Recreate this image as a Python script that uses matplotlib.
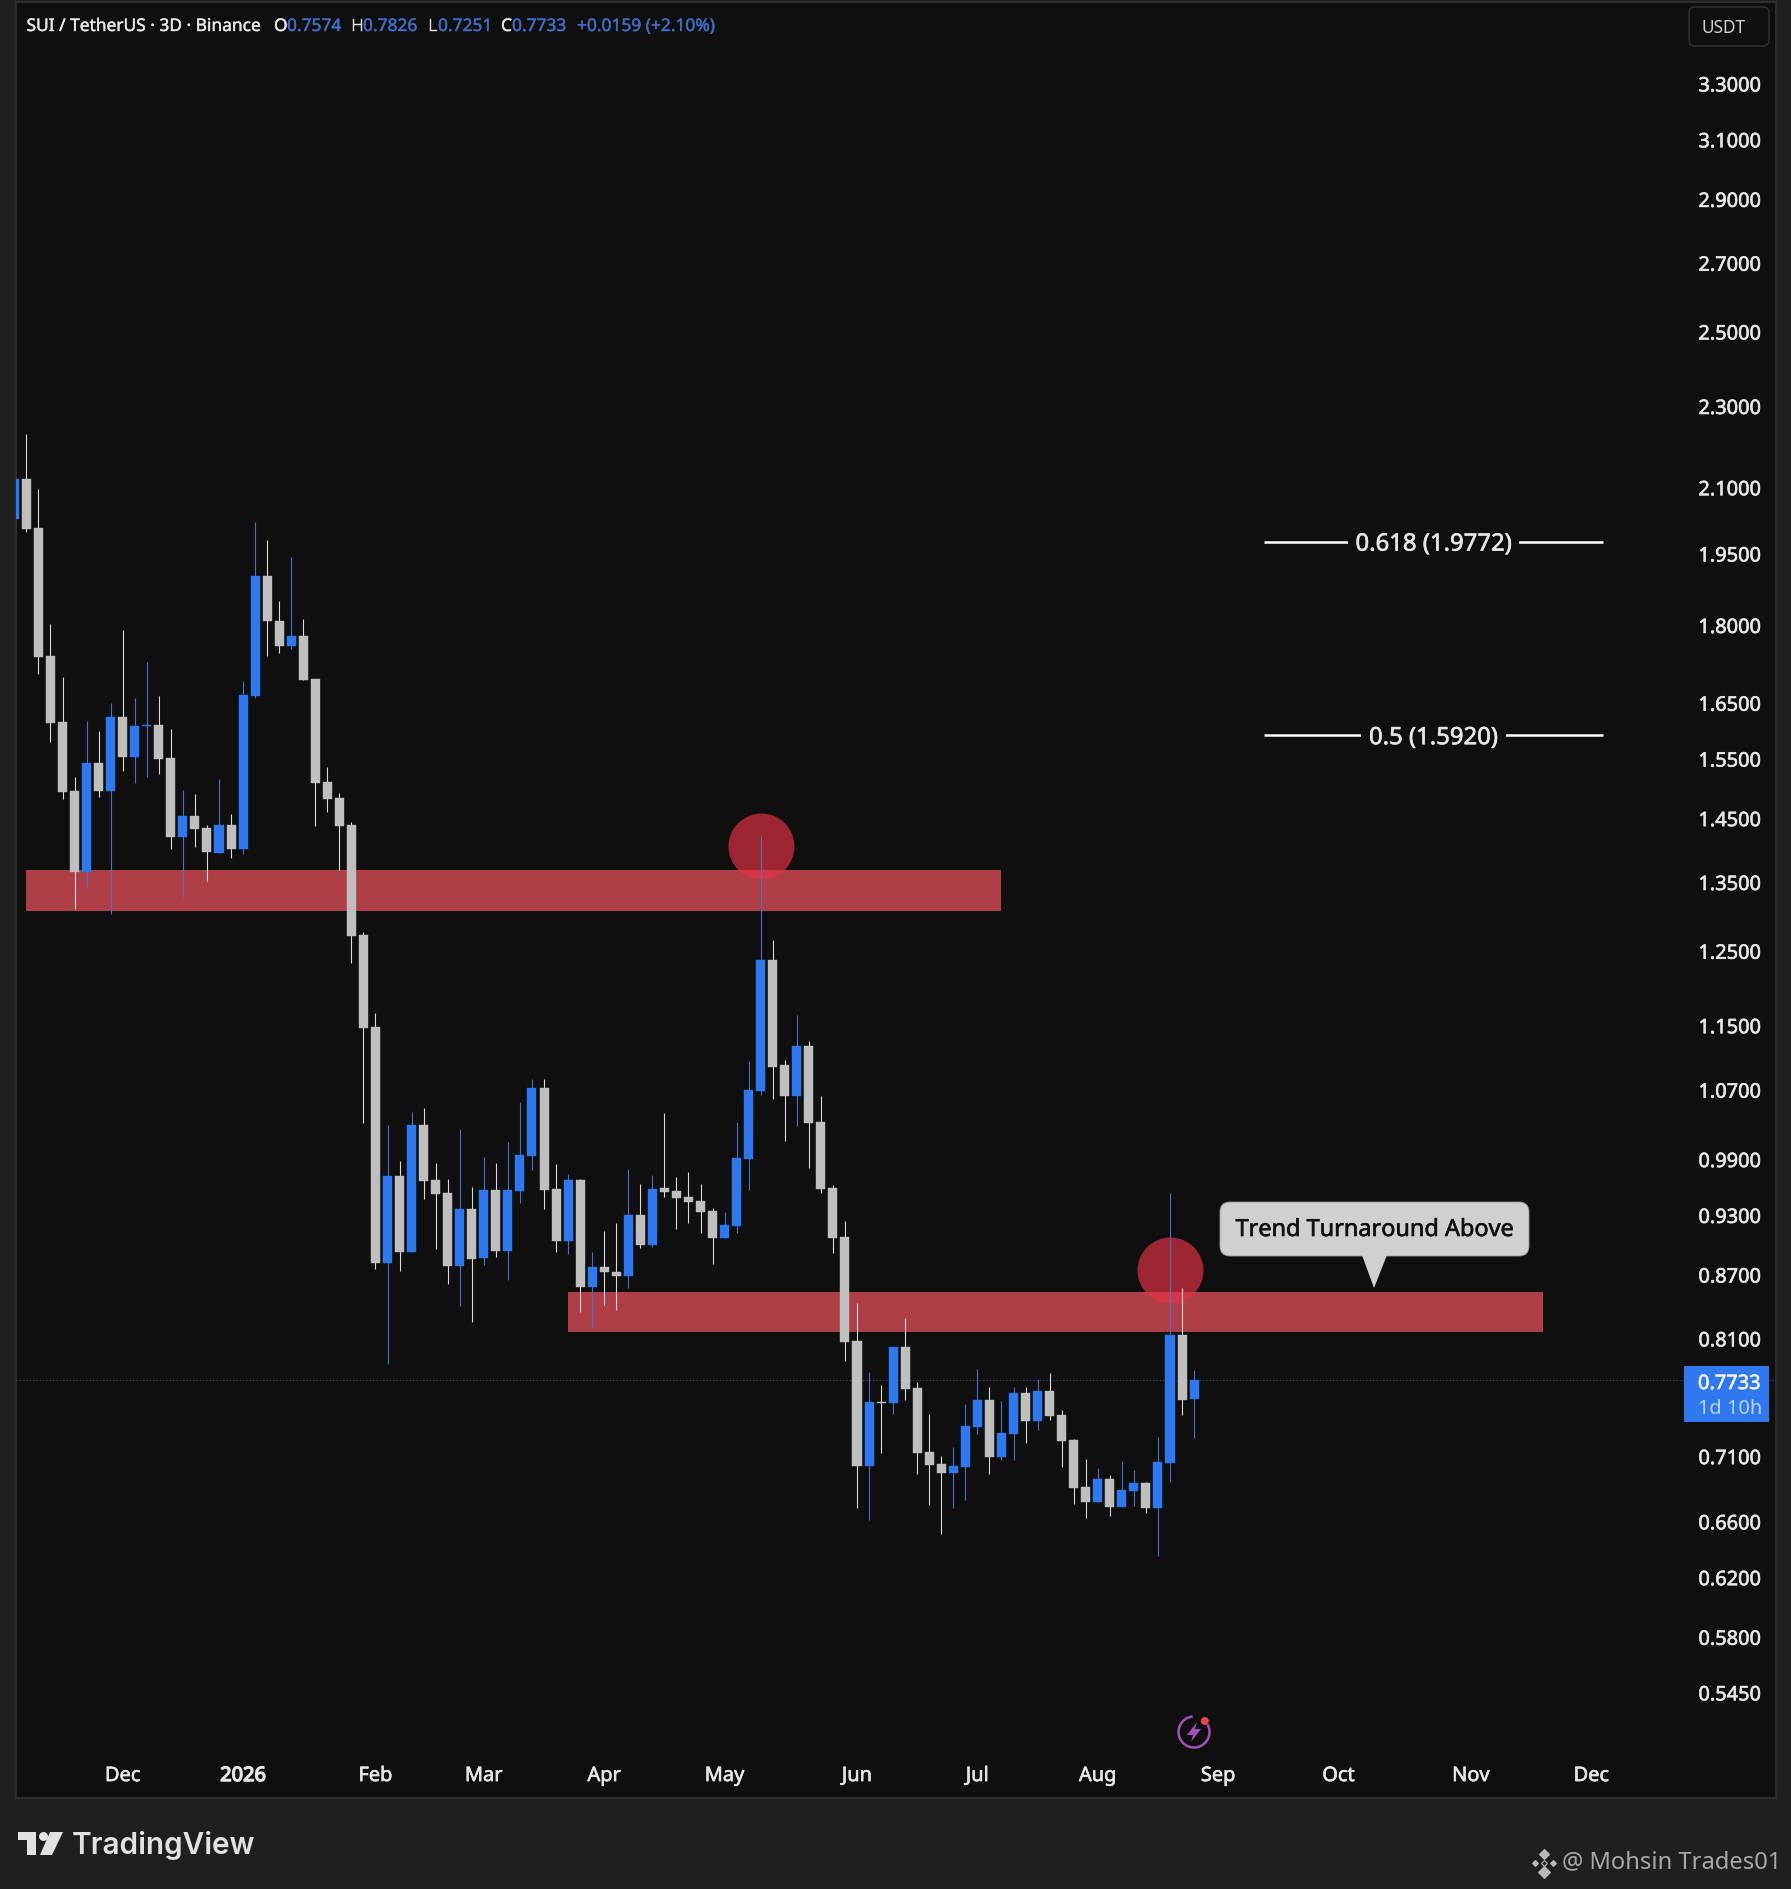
import numpy as np
import matplotlib
matplotlib.use('Agg')
import matplotlib.pyplot as plt
import matplotlib.patheffects as pe
from matplotlib.patches import FancyBboxPatch, Polygon, Rectangle, Arc, Circle

plt.rcParams['font.family'] = ['Noto Sans', 'DejaVu Sans']

W, H = 1791, 1889

# candles, 3D bars, index 0 is the first full bar
opens = [
    2.028, 2.120, 2.007, 1.7392, 1.6165, 1.4953, 1.3657, 1.5432, 1.4953, 1.6251,
    1.5539, 1.6076, 1.6096, 1.5520, 1.4207, 1.4539, 1.4346, 1.3955, 1.4392, 1.4022,
    1.6631, 1.9015, 1.81, 1.7588, 1.7784, 1.695, 1.5103, 1.4841, 1.4392, 1.2728,
    1.148, 0.8817, 0.9716, 0.8925, 1.0287, 0.9674, 0.9536, 0.879, 0.9367, 0.887,
    0.9568, 0.8936, 0.9557, 0.9943, 1.0725, 0.9578, 0.9037, 0.9674, 0.8583, 0.8777,
    0.8727, 0.8687, 0.9303, 0.8994, 0.9589, 0.9557, 0.9494, 0.9451, 0.9346, 0.9067,
    0.9187, 0.9906, 1.069, 1.2378, 1.1, 1.0634, 1.1242, 1.032, 0.9592, 0.9077,
    0.8078, 0.7025, 0.7551, 0.7542, 0.8027, 0.7667, 0.7137, 0.7041, 0.6969, 0.7017,
    0.7337, 0.7565, 0.7097, 0.7281, 0.7624, 0.7387, 0.7641, 0.7438, 0.7233, 0.6862,
    0.6749, 0.6923, 0.6711, 0.6832, 0.6891, 0.6704, 0.7049, 0.8134, 0.7574,
]
closes = [
    2.120, 2.0055, 1.7379, 1.6145, 1.4937, 1.3657, 1.5432, 1.4953, 1.6251, 1.5539,
    1.6076, 1.6096, 1.5507, 1.4207, 1.4539, 1.4335, 1.3961, 1.4392, 1.4022, 1.6652,
    1.9015, 1.8086, 1.7588, 1.7784, 1.6937, 1.5089, 1.4827, 1.4381, 1.2718, 1.1471,
    0.882, 0.9716, 0.8925, 1.0287, 0.9666, 0.9525, 0.879, 0.9367, 0.886, 0.9568,
    0.8936, 0.9568, 0.9951, 1.0725, 0.9568, 0.9037, 0.9674, 0.8583, 0.8777, 0.8727,
    0.8687, 0.9303, 0.8994, 0.9578, 0.9547, 0.9483, 0.9441, 0.9335, 0.9067, 0.9197,
    0.9917, 1.0701, 1.2378, 1.0982, 1.0634, 1.1242, 1.0315, 0.9583, 0.907, 0.8072,
    0.7025, 0.7548, 0.7542, 0.8027, 0.7658, 0.7129, 0.7033, 0.6969, 0.7025, 0.7345,
    0.7565, 0.7097, 0.7289, 0.7624, 0.7387, 0.7641, 0.7430, 0.7225, 0.6855, 0.6749,
    0.6925, 0.6711, 0.6840, 0.6891, 0.6704, 0.7057, 0.8134, 0.7565, 0.7733,
]
highs = [
    2.120, 2.230, 2.0977, 1.8037, 1.699, 1.5191, 1.6171, 1.5989, 1.65, 1.7912,
    1.6592, 1.727, 1.6631, 1.6032, 1.4972, 1.4907, 1.4392, 1.5161, 1.4581, 1.6909,
    2.0217, 1.9805, 1.8497, 1.9431, 1.8141, 1.695, 1.5358, 1.4924, 1.4448, 1.2778,
    1.167, 1.0295, 0.9884, 1.0437, 1.0485, 0.9865, 0.9684, 1.025, 0.96, 0.9932,
    0.9865, 1.0097, 1.0556, 1.0832, 1.0832, 0.985, 0.9745, 0.9692, 0.8924, 0.9137,
    0.9224, 0.98, 0.9631, 0.9727, 1.0426, 0.9709, 0.9758, 0.9631, 0.9374, 0.9335,
    1.0331, 1.1054, 1.4229, 1.2664, 1.1072, 1.1637, 1.1308, 1.0631, 0.9621, 0.9247,
    0.8429, 0.7805, 0.7692, 0.8027, 0.8287, 0.7717, 0.7447, 0.7105, 0.7179, 0.7531,
    0.7827, 0.7678, 0.7554, 0.7678, 0.7678, 0.7742, 0.7796, 0.7480, 0.7240, 0.7078,
    0.7006, 0.6953, 0.7068, 0.6993, 0.6899, 0.7255, 0.9539, 0.8571, 0.7826,
]
lows = [
    2.028, 1.9993, 1.7043, 1.5796, 1.4818, 1.3106, 1.3423, 1.4854, 1.3037, 1.5298,
    1.5096, 1.5191, 1.5243, 1.4011, 1.3281, 1.4045, 1.3524, 1.3955, 1.3876, 1.3944,
    1.6605, 1.74, 1.7463, 1.7539, 1.6937, 1.4381, 1.4606, 1.3683, 1.234, 1.0319,
    0.8757, 0.7875, 0.8744, 0.8925, 0.9473, 0.8957, 0.8609, 0.8406, 0.8252, 0.8797,
    0.888, 0.865, 0.9427, 0.9783, 0.9367, 0.8924, 0.8907, 0.8349, 0.82, 0.8413,
    0.8365, 0.8579, 0.8967, 0.8974, 0.9494, 0.9157, 0.9224, 0.9114, 0.8807, 0.9067,
    0.912, 0.9568, 1.0637, 1.0595, 1.0103, 1.0279, 0.9811, 0.9541, 0.8914, 0.7902,
    0.6701, 0.6613, 0.7131, 0.7444, 0.7565, 0.6961, 0.6726, 0.651, 0.6701, 0.6764,
    0.7281, 0.6961, 0.7073, 0.7073, 0.7207, 0.7313, 0.7396, 0.7014, 0.6734, 0.6626,
    0.6749, 0.6644, 0.6711, 0.6719, 0.6668, 0.6353, 0.6899, 0.7438, 0.7251,
]
first_bar = -1

price_ticks = [3.3, 3.1, 2.9, 2.7, 2.5, 2.3, 2.1, 1.95, 1.8, 1.65, 1.55, 1.45, 1.35,
               1.25, 1.15, 1.07, 0.99, 0.93, 0.87, 0.81, 0.71, 0.66, 0.62, 0.58, 0.545]
month_labels = ['Dec', '2026', 'Feb', 'Mar', 'Apr', 'May', 'Jun', 'Jul', 'Aug', 'Sep',
                'Oct', 'Nov', 'Dec']
month_bars = [8, 18, 29, 38, 48, 58, 69, 79, 89, 99, 109, 120, 130]

# zones: (first bar, last bar, low price, high price)
zone_upper = (0, 81, 1.308, 1.3683)
zone_lower = (45, 126, 0.8161, 0.8538)
fib_levels = [1.9772, 1.5920]
fib_labels = ['0.618 (1.9772)', '0.5 (1.5920)']
touch_bars = [61, 95]
touch_prices = [1.407, 0.8747]

BG = '#0f0f10'
FRAME = '#1f1f1f'
UP = '#2f78ee'
DOWN = '#bfbfbf'
UP_WICK = '#4a70cc'
DOWN_WICK = '#d9d9d9'
ZONE = '#b03e47'
TEXT = '#e6e6e6'
BLUE_TEXT = '#3f6cc4'


def thicken(text, amount=0.45):
    # the fonts here have no medium weight, so fatten the regular one a bit
    text.set_path_effects([pe.withStroke(linewidth=amount, foreground=text.get_color())])
    return text


fig = plt.figure(figsize=(W / 100, H / 100), dpi=100, facecolor=FRAME)
ax = fig.add_axes([15.5 / W, 1 - 1798 / H, 1760 / W, 1796 / H], facecolor=BG)
ax.set_yscale('log')
ax.set_xlim(-0.905, 145.3)
ax.set_ylim(0.4845, 3.617)

opens_a = np.array(opens)
closes_a = np.array(closes)
xs = np.arange(first_bar, first_bar + len(opens))
rising = closes_a >= opens_a
bottoms = np.minimum(opens_a, closes_a)
tops = np.maximum(opens_a, closes_a)

for first, last, low, high in (zone_upper, zone_lower):
    ax.fill_between([first, last], low, high, color=ZONE, lw=0, zorder=1)

ax.plot(touch_bars, touch_prices, ls='none', marker='o', ms=47.5, mew=0,
        color='#ea3344', alpha=0.66, zorder=2)

ax.axhline(closes[-1], color='#35558f', lw=0.8, ls=(0, (1, 2)), zorder=1.5)

ax.vlines(xs, lows, highs, colors=[UP_WICK if r else DOWN_WICK for r in rising],
          lw=0.8, zorder=3)
ax.bar(xs, tops - bottoms, bottom=bottoms, width=0.75,
       color=[UP if r else DOWN for r in rising],
       edgecolor=[UP if r else DOWN for r in rising], lw=0.3, zorder=4)

ax.hlines(fib_levels, 102.8, 131, color='white', lw=1.8, zorder=3)
for level, label in zip(fib_levels, fib_labels):
    thicken(ax.text(116.9, level, label, color=TEXT, fontsize=17.2,
                    ha='center', va='center_baseline', zorder=4,
                    bbox=dict(facecolor=BG, edgecolor='none', pad=5.5)))

ax.minorticks_off()
ax.yaxis.set_ticks_position('right')
ax.set_yticks(price_ticks, [f'{p:.4f}' for p in price_ticks])
ax.yaxis.set_minor_locator(matplotlib.ticker.NullLocator())
ax.tick_params(axis='y', length=0, pad=-55.5, labelsize=14.4, labelcolor=TEXT)
ax.set_xticks(month_bars, month_labels)
ax.tick_params(axis='x', length=0, pad=-23, labelsize=14.4, labelcolor=TEXT)
for lab in ax.get_xticklabels() + ax.get_yticklabels():
    thicken(lab, 1.0 if lab.get_text() == '2026' else 0.45)
for side in ax.spines.values():
    side.set_color('#2e2e2e')
    side.set_linewidth(1.5)

# everything below is chart furniture, placed in image pixels
ov = fig.add_axes([0, 0, 1, 1], zorder=5)
ov.set_xlim(0, W)
ov.set_ylim(H, 0)
ov.axis('off')

header = [(26.5, 'SUI / TetherUS · 3D · Binance', TEXT), (274, 'O', TEXT), (287, '0.7574', BLUE_TEXT),
          (351, 'H', TEXT), (363, '0.7826', BLUE_TEXT), (428, 'L', TEXT), (438, '0.7251', BLUE_TEXT),
          (501, 'C', TEXT), (512, '0.7733', BLUE_TEXT), (577, '+0.0159 (+2.10%)', BLUE_TEXT)]
for hx, txt, col in header:
    thicken(ov.text(hx, 26, txt, color=col, fontsize=12.5, va='center', ha='left'), 0.3)

ov.add_patch(FancyBboxPatch((1692, 10), 74, 33, boxstyle='round,pad=3,rounding_size=6',
                            fc=BG, ec='#333333', lw=1))
ov.text(1723.5, 28, 'USDT', color='#d0d0d0', fontsize=12.4, ha='center', va='center')

# callout
ov.add_patch(FancyBboxPatch((1230, 1212), 289, 34, boxstyle='round,pad=10,rounding_size=10',
                            fc='#d0d0d0', ec='#9a9a9a', lw=0.6))
ov.add_patch(Polygon([(1362, 1255), (1387, 1255), (1374, 1288)], fc='#d0d0d0', ec='none'))
thicken(ov.text(1374.5, 1230, 'Trend Turnaround Above', color='#111111', fontsize=16.9,
                ha='center', va='center'))

# last price tag
ov.add_patch(Rectangle((1684, 1366), 85, 56, fc=UP, ec='none'))
thicken(ov.text(1698, 1384, '0.7733', color='#f2f2f2', fontsize=14.4, ha='left', va='center'))
ov.text(1698, 1409, '1d 10h', color='#b9d2f8', fontsize=14.4, ha='left', va='center')

# lightning icon
ov.add_patch(Arc((1194, 1732), 31, 31, theta1=-30, theta2=265, ec='#a24fb8', lw=1.8))
ov.add_patch(Polygon([(1197, 1722), (1187, 1735), (1193, 1735), (1191, 1742), (1201, 1729), (1195, 1729)],
                     fc='#a24fb8', ec='none'))
ov.add_patch(Circle((1204.8, 1721), 4, fc='#ef4444', ec='none'))

# TradingView logo
LOGO = '#e2e2e2'
ov.add_patch(Polygon([(18, 1832), (36, 1832), (36, 1855), (27, 1855), (27, 1840), (18, 1840)], fc=LOGO, ec='none'))
ov.add_patch(Circle((43.5, 1836.5), 4.5, fc=LOGO, ec='none'))
ov.add_patch(Polygon([(50, 1832), (63, 1832), (52, 1855), (40, 1855)], fc=LOGO, ec='none'))
ov.text(72, 1845, 'TradingView', color=LOGO, fontsize=21.4, fontfamily=['Inter', 'DejaVu Sans'],
        fontweight='semibold', ha='left', va='center')

# watermark
for dx, dy, ms in ((0, -9, 5), (-9, 0, 3), (9, 0, 3), (0, 9, 6), (0, 0, 3)):
    ov.plot(1544 + dx, 1863 + dy, marker='D', ms=ms, mfc='none' if (dx, dy) == (0, 0) else '#b8b8b8',
            mec='#b8b8b8', mew=0.8, ls='none')
ov.text(1781, 1862, '@ Mohsin Trades01', color='#a8a8a8', fontsize=17.1, ha='right', va='center')

fig.savefig('out.png', dpi=100, facecolor=fig.get_facecolor())
